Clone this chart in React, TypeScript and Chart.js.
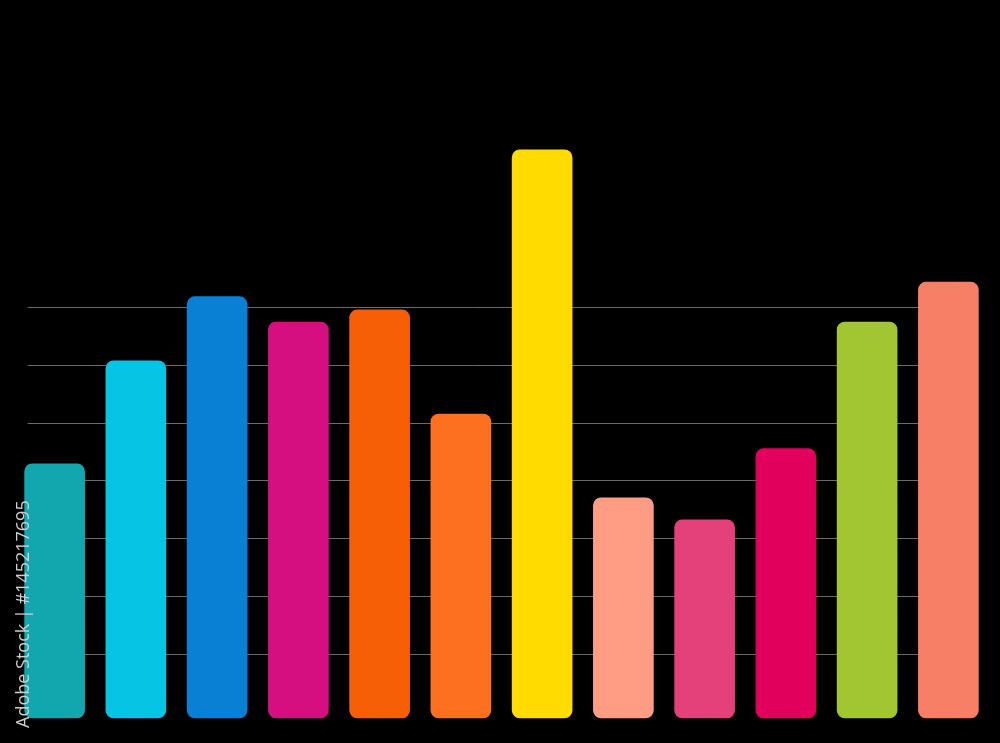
import React, { useEffect, useRef } from "react";
import { Chart, registerables } from "chart.js";

Chart.register(...registerables);

const categories = ["1", "2", "3", "4", "5", "6", "7", "8", "9", "10", "11", "12"];
const values = [4.29, 6.07, 7.18, 6.74, 6.95, 5.15, 9.72, 3.7, 3.32, 4.55, 6.74, 7.43];
const gridTicks = [1, 2, 3, 4, 5, 6, 7];
const barColors = [
  "#12a6ae",
  "#06c4e3",
  "#0a80d5",
  "#d50f80",
  "#f65f05",
  "#fc7020",
  "#ffdb00",
  "#ff9c84",
  "#e4407a",
  "#e1005b",
  "#a2c631",
  "#f67f66",
];
const sideLabel = "Adobe Stock | #145217695";

const partialGrid = {
  id: "partialGrid",
  beforeDatasetsDraw(chart: any) {
    const { ctx } = chart;
    const y = chart.scales.y;
    const meta = chart.getDatasetMeta(0);
    const first: any = meta.data[0];
    const last: any = meta.data[meta.data.length - 1];
    if (!first || !last) return;
    const x0 = first.x - first.width / 2 + 3;
    const x1 = last.x - last.width / 2 + 1;
    ctx.save();
    ctx.strokeStyle = "#6b6b6b";
    ctx.lineWidth = 1;
    y.ticks.forEach((t: any) => {
      const py = Math.round(y.getPixelForValue(t.value)) + 0.5;
      ctx.beginPath();
      ctx.moveTo(x0, py);
      ctx.lineTo(x1, py);
      ctx.stroke();
    });
    ctx.restore();
  },
};

export default function App() {
  const ref = useRef<HTMLCanvasElement | null>(null);
  useEffect(() => {
    document.body.style.margin = "0";
    document.body.style.background = "#000";
    if (!ref.current) return;
    const chart = new Chart(ref.current, {
      type: "bar",
      data: {
        labels: categories,
        datasets: [
          {
            data: values,
            backgroundColor: barColors,
            borderRadius: 8,
            borderSkipped: false,
            barThickness: 60,
            base: -0.107,
          } as any,
        ],
      },
      options: {
        animation: false,
        responsive: false,
        maintainAspectRatio: false,
        layout: { padding: { left: 14, right: 11, top: 0, bottom: 0 } },
        plugins: { legend: { display: false }, tooltip: { enabled: false } },
        scales: {
          x: {
            display: false,
            grid: { display: false },
          },
          y: {
            display: true,
            min: -0.54,
            max: 12.31,
            ticks: { display: false, stepSize: 1 },
            grid: { display: false },
            border: { display: false },
            afterBuildTicks: (scale: any) => {
              scale.ticks = gridTicks.map((v) => ({ value: v }));
            },
            afterFit: (scale: any) => {
              scale.width = 0;
            },
          },
        },
      },
      plugins: [partialGrid],
    });
    return () => chart.destroy();
  }, []);

  return (
    <div
      style={{
        position: "fixed",
        left: 0,
        top: 0,
        width: 1000,
        height: 743,
        background: "#000",
        overflow: "hidden",
      }}
    >
      <canvas ref={ref} width={1000} height={743} style={{ width: 1000, height: 743, display: "block" }} />
      <div
        style={{
          position: "absolute",
          left: 12,
          top: 728,
          transformOrigin: "left top",
          transform: "rotate(-90deg)",
          whiteSpace: "nowrap",
          fontFamily: "'Open Sans', sans-serif",
          fontSize: 18,
          lineHeight: "20px",
          color: "#cfcfcf",
        }}
      >
        {sideLabel}
      </div>
    </div>
  );
}
